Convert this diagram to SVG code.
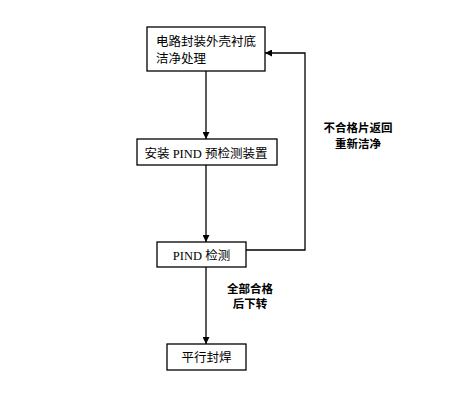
<svg xmlns="http://www.w3.org/2000/svg" width="474" height="416" viewBox="0 0 474 416">
<style>
.box{fill:#fff;stroke:#000;stroke-width:1.3}
.t{font-family:"Liberation Serif","Noto Sans CJK SC",serif;font-size:12.5px;fill:#000}
.c{text-anchor:middle}
.lbl{font-family:"Liberation Serif","Noto Sans CJK SC",serif;font-size:11.5px;font-weight:bold;fill:#000;text-anchor:middle}
.ln{fill:none;stroke:#000;stroke-width:1.3}
</style>
<defs>
<marker id="ah" viewBox="0 0 10 10" refX="10" refY="5" markerWidth="7" markerHeight="7" markerUnits="userSpaceOnUse" orient="auto">
<path d="M0,0 L10,5 L0,10 Z" fill="#000"/>
</marker>
</defs>
<rect width="474" height="416" fill="#fff"/>
<g id="connectors">
<line class="ln" x1="206" y1="71" x2="206" y2="139" marker-end="url(#ah)"/>
<line class="ln" x1="206" y1="165" x2="206" y2="242" marker-end="url(#ah)"/>
<line class="ln" x1="206" y1="267" x2="206" y2="344" marker-end="url(#ah)"/>
<polyline class="ln" points="246,250 305,250 305,53 265,53" marker-end="url(#ah)"/>
</g>
<g id="n1">
<rect class="box" x="147" y="27" width="118" height="44"/>
<text class="t" x="156" y="46">电路封装外壳衬底</text>
<text class="t" x="156" y="63">洁净处理</text>
</g>
<g id="n2">
<rect class="box" x="137" y="139" width="140" height="26"/>
<text class="t c" x="206" y="157.5">安装 PIND 预检测装置</text>
</g>
<g id="n3">
<rect class="box" x="157" y="242" width="89" height="25"/>
<text class="t c" x="201.5" y="260">PIND 检测</text>
</g>
<g id="n4">
<rect class="box" x="167" y="344" width="79" height="26"/>
<text class="t c" x="206.5" y="362">平行封焊</text>
</g>
<g id="labels">
<text class="lbl" x="358" y="132">不合格片返回</text>
<text class="lbl" x="358" y="148">重新洁净</text>
<text class="lbl" x="250" y="293">全部合格</text>
<text class="lbl" x="250" y="308">后下转</text>
</g>
</svg>
